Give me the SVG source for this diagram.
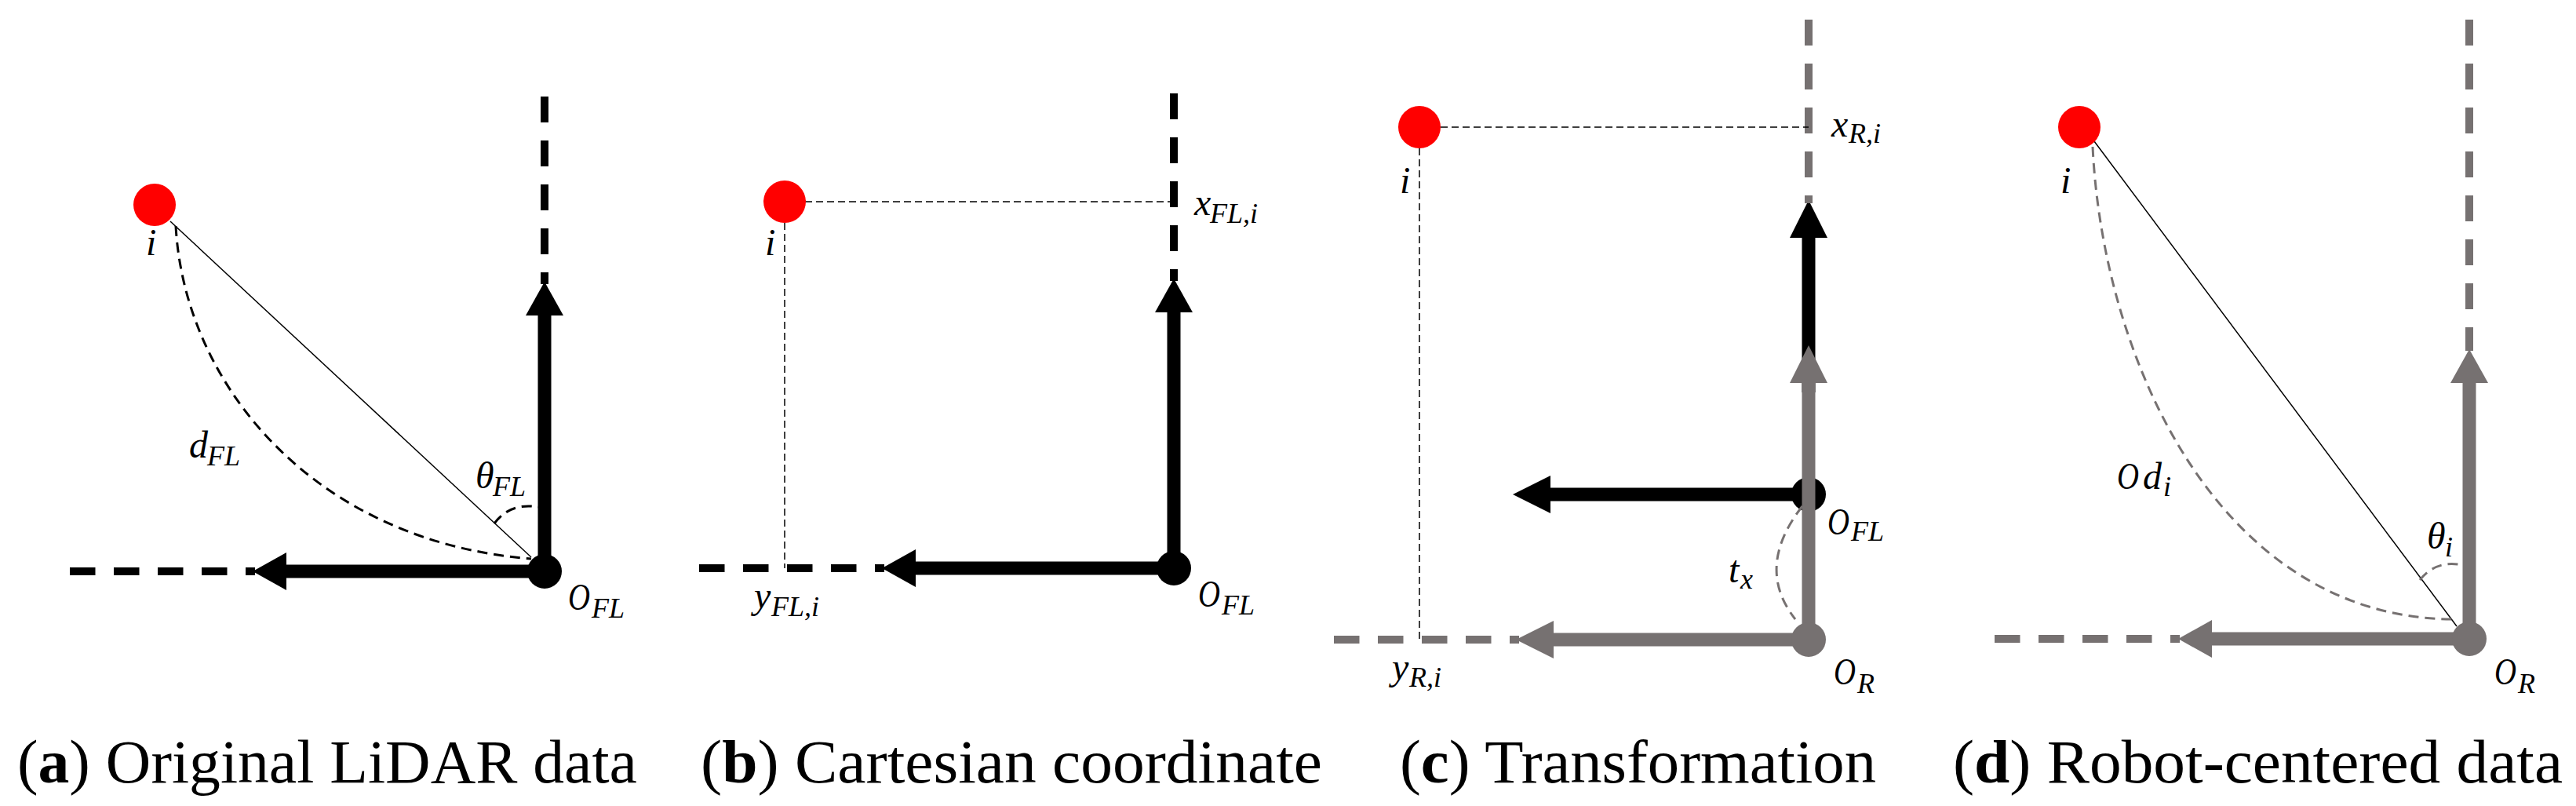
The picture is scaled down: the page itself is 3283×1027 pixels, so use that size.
<svg xmlns="http://www.w3.org/2000/svg" width="3283" height="1027" viewBox="0 0 3283 1027">
<style>
.m{font-family:"Liberation Serif",serif;font-style:italic;font-size:48px;fill:#000}
.s{font-size:36px}
.cap{font-family:"Liberation Serif",serif;font-size:78px;fill:#000}
.cap tspan{font-weight:700}
.k{stroke:#000;fill:none}
.g{stroke:#767171;fill:none}
.shaft{stroke-width:17}
.vd{stroke-width:10;stroke-dasharray:33 23}
.hd{stroke-width:10;stroke-dasharray:32.5 23.5}
.thin{stroke-width:1.5}
.td{stroke-width:1.5;stroke-dasharray:9 5}
.arc{stroke-width:3;stroke-dasharray:13 8}
.pt{fill:#f00}
.ok{fill:#000}
.og{fill:#767171}
</style>
<defs>
<marker id="hk" markerUnits="userSpaceOnUse" markerWidth="43" markerHeight="48" refX="0" refY="24" orient="auto"><path d="M0,0L43,24L0,48Z" fill="#000"/></marker>
<marker id="hg" markerUnits="userSpaceOnUse" markerWidth="43" markerHeight="48" refX="0" refY="24" orient="auto"><path d="M0,0L43,24L0,48Z" fill="#767171"/></marker>
<marker id="hk2" markerUnits="userSpaceOnUse" markerWidth="48" markerHeight="48" refX="0" refY="24" orient="auto"><path d="M0,0L48,24L0,48Z" fill="#000"/></marker>
<marker id="hg2" markerUnits="userSpaceOnUse" markerWidth="48" markerHeight="48" refX="0" refY="24" orient="auto"><path d="M0,0L48,24L0,48Z" fill="#767171"/></marker>
</defs>
<rect width="3283" height="1027" fill="#fff"/>
<g id="origin-c-fl"><circle class="ok" cx="2305" cy="630" r="22"/></g>
<g id="connectors">
<path class="k vd" d="M694,123V362"/>
<path class="k hd" d="M89,728H325"/>
<path class="k shaft" marker-end="url(#hk)" d="M694,728V402"/>
<path class="k shaft" marker-end="url(#hk)" d="M694,728H365"/>
<path class="k thin" d="M217,282L677,710"/>
<path class="k arc" d="M224,288C235,490 400,690 677,712"/>
<path class="k arc" d="M630,667Q650,640 686,646"/>
<path class="k vd" d="M1496,119V358"/>
<path class="k hd" d="M891,724H1127"/>
<path class="k shaft" marker-end="url(#hk)" d="M1496,724V398"/>
<path class="k shaft" marker-end="url(#hk)" d="M1496,724H1167"/>
<path class="k td" d="M1026,257H1496"/>
<path class="k td" d="M1000,284V724"/>
<path class="k shaft" marker-end="url(#hk2)" d="M2305,630H1976"/>
<path class="k shaft" marker-end="url(#hk2)" d="M2305,500V303"/>
<path class="g vd" d="M2305,25V259"/>
<path class="g hd" d="M1700,815H1936"/>
<path class="k td" d="M1836,162H2305"/>
<path class="k td" d="M1809,189V815"/>
<path class="g shaft" marker-end="url(#hg2)" d="M2305,815V488"/>
<path class="g shaft" marker-end="url(#hg2)" d="M2305,815H1980"/>
<path class="g arc" d="M2297,645Q2236,723 2288,789"/>
<path class="g vd" d="M3147,25V447"/>
<path class="g hd" d="M2542,814H2778"/>
<path class="g shaft" marker-end="url(#hg)" d="M3147,814V488"/>
<path class="g shaft" marker-end="url(#hg)" d="M3147,814H2819"/>
<path class="k thin" d="M2669,180L3131,798"/>
<path class="g arc" d="M2667,187C2680,460 2830,790 3130,789"/>
<path class="g arc" d="M3084,739Q3105,713 3138,720"/>
</g>
<g id="point-a"><circle class="pt" cx="197" cy="261" r="27"/><text class="m" x="186" y="325">i</text></g>
<g id="origin-a"><circle class="ok" cx="694" cy="728" r="22"/><text class="m" x="724" y="777" textLength="28" lengthAdjust="spacingAndGlyphs">O</text><text class="m s" x="754" y="787">FL</text></g>
<g id="label-a"><text class="m" x="241" y="583">d<tspan class="s" x="264" y="593">FL</tspan></text><text class="m" x="606" y="622">θ<tspan class="s" x="628" y="632">FL</tspan></text></g>
<g id="point-b"><circle class="pt" cx="1000" cy="257" r="27"/><text class="m" x="975" y="325">i</text></g>
<g id="origin-b"><circle class="ok" cx="1496" cy="724" r="22"/><text class="m" x="1527" y="773" textLength="28" lengthAdjust="spacingAndGlyphs">O</text><text class="m s" x="1557" y="783">FL</text></g>
<g id="label-b"><text class="m" x="1522" y="274">x<tspan class="s" x="1542" y="284">FL,i</tspan></text><text class="m" x="961" y="775">y<tspan class="s" x="983" y="785">FL,i</tspan></text></g>
<g id="point-c"><circle class="pt" cx="1809" cy="162" r="27"/><text class="m" x="1784" y="246">i</text></g>
<g id="origin-c-r"><circle class="og" cx="2305" cy="815" r="22"/><text class="m" x="2337" y="872" textLength="28" lengthAdjust="spacingAndGlyphs">O</text><text class="m s" x="2367" y="883">R</text></g>
<g id="label-c"><text class="m" x="2334" y="174">x<tspan class="s" x="2356" y="182">R,i</tspan></text><text class="m" x="2329" y="681" textLength="28" lengthAdjust="spacingAndGlyphs">O</text><text class="m s" x="2359" y="689">FL</text><text class="m" x="2203" y="742">t<tspan class="s" x="2218" y="750">x</tspan></text><text class="m" x="1774" y="866">y<tspan class="s" x="1796" y="875">R,i</tspan></text></g>
<g id="point-d"><circle class="pt" cx="2650" cy="162" r="27"/><text class="m" x="2626" y="246">i</text></g>
<g id="origin-d"><circle class="og" cx="3147" cy="814" r="22"/><text class="m" x="3179" y="872" textLength="28" lengthAdjust="spacingAndGlyphs">O</text><text class="m s" x="3209" y="883">R</text></g>
<g id="label-d"><text class="m" x="2698" y="623" textLength="28" lengthAdjust="spacingAndGlyphs">O</text><text class="m" x="2731" y="623">d<tspan class="s" x="2757" y="632">i</tspan></text><text class="m" x="3093" y="699">θ<tspan class="s" x="3116" y="709">i</tspan></text></g>
<g id="captions">
<text class="cap" x="22" y="997" textLength="790" lengthAdjust="spacingAndGlyphs">(<tspan>a</tspan>) Original LiDAR data</text>
<text class="cap" x="893" y="997" textLength="792" lengthAdjust="spacingAndGlyphs">(<tspan>b</tspan>) Cartesian coordinate</text>
<text class="cap" x="1784" y="997" textLength="607" lengthAdjust="spacingAndGlyphs">(<tspan>c</tspan>) Transformation</text>
<text class="cap" x="2489" y="997" textLength="777" lengthAdjust="spacingAndGlyphs">(<tspan>d</tspan>) Robot-centered data</text>
</g>
</svg>
